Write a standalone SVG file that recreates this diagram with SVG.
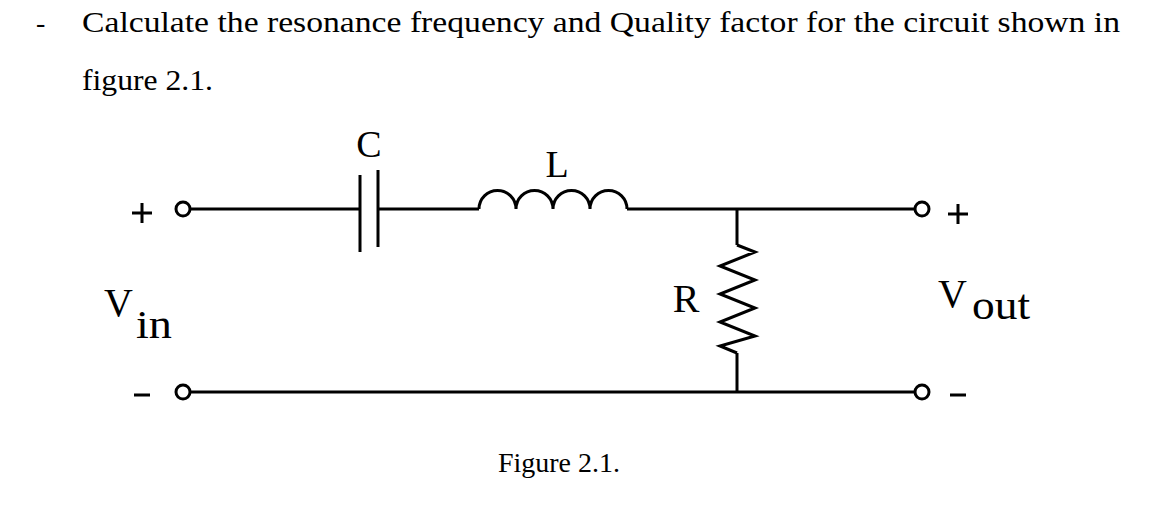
<svg xmlns="http://www.w3.org/2000/svg" width="1168" height="509" viewBox="0 0 1168 509">
<style>
.t{font-family:"Liberation Serif",serif;fill:#000}
.w{stroke:#000;stroke-width:3;fill:none}
.term{stroke:#000;stroke-width:3;fill:#fff}
</style>
<rect width="1168" height="509" fill="#fff"/>
<text class="t" x="36" y="32" font-size="28">-</text>
<text class="t" x="82" y="32" font-size="29" textLength="1038" lengthAdjust="spacingAndGlyphs">Calculate the resonance frequency and Quality factor for the circuit shown in</text>
<text class="t" x="82" y="90" font-size="29" textLength="131" lengthAdjust="spacingAndGlyphs">figure 2.1.</text>
<g id="connectors">
<path class="w" d="M190 209 H360 M378 209 H479 M627 209 H915"/>
<path class="w" d="M737 209 V245 M737 353 V392"/>
<path class="w" d="M190 392 H915"/>
</g>
<g id="C"><path class="w" d="M360 175 V252 M378 170 V247"/><text class="t" x="369" y="157" font-size="38" text-anchor="middle">C</text></g>
<g id="L"><path class="w" d="M479 209 a18.5 18.5 0 0 1 37 0 a18.5 18.5 0 0 1 37 0 a18.5 18.5 0 0 1 37 0 a18.5 18.5 0 0 1 37 0"/><text class="t" x="557" y="177" font-size="38" text-anchor="middle">L</text></g>
<g id="R"><path class="w" d="M737 245 L755 252 L720 266 L755 280 L720 294 L755 308 L720 322 L755 336 L720 346 L737 353"/><text class="t" x="686" y="312" font-size="40" text-anchor="middle">R</text></g>
<g id="in"><circle class="term" cx="183" cy="209" r="7"/><circle class="term" cx="183" cy="392" r="7"/>
<path class="w" d="M132 213 H152 M142 203 V223 M134 395 H150"/>
<text class="t" x="104" y="316" font-size="40">V</text><text class="t" x="136" y="338" font-size="40" textLength="36" lengthAdjust="spacingAndGlyphs">in</text></g>
<g id="out"><circle class="term" cx="922" cy="209" r="7"/><circle class="term" cx="922" cy="392" r="7"/>
<path class="w" d="M948 214 H968 M958 204 V224 M950 395 H966"/>
<text class="t" x="938" y="307" font-size="40">V</text><text class="t" x="972" y="319" font-size="42" textLength="58" lengthAdjust="spacingAndGlyphs">out</text></g>
<text class="t" x="498" y="472" font-size="28" textLength="122" lengthAdjust="spacingAndGlyphs">Figure 2.1.</text>
</svg>
